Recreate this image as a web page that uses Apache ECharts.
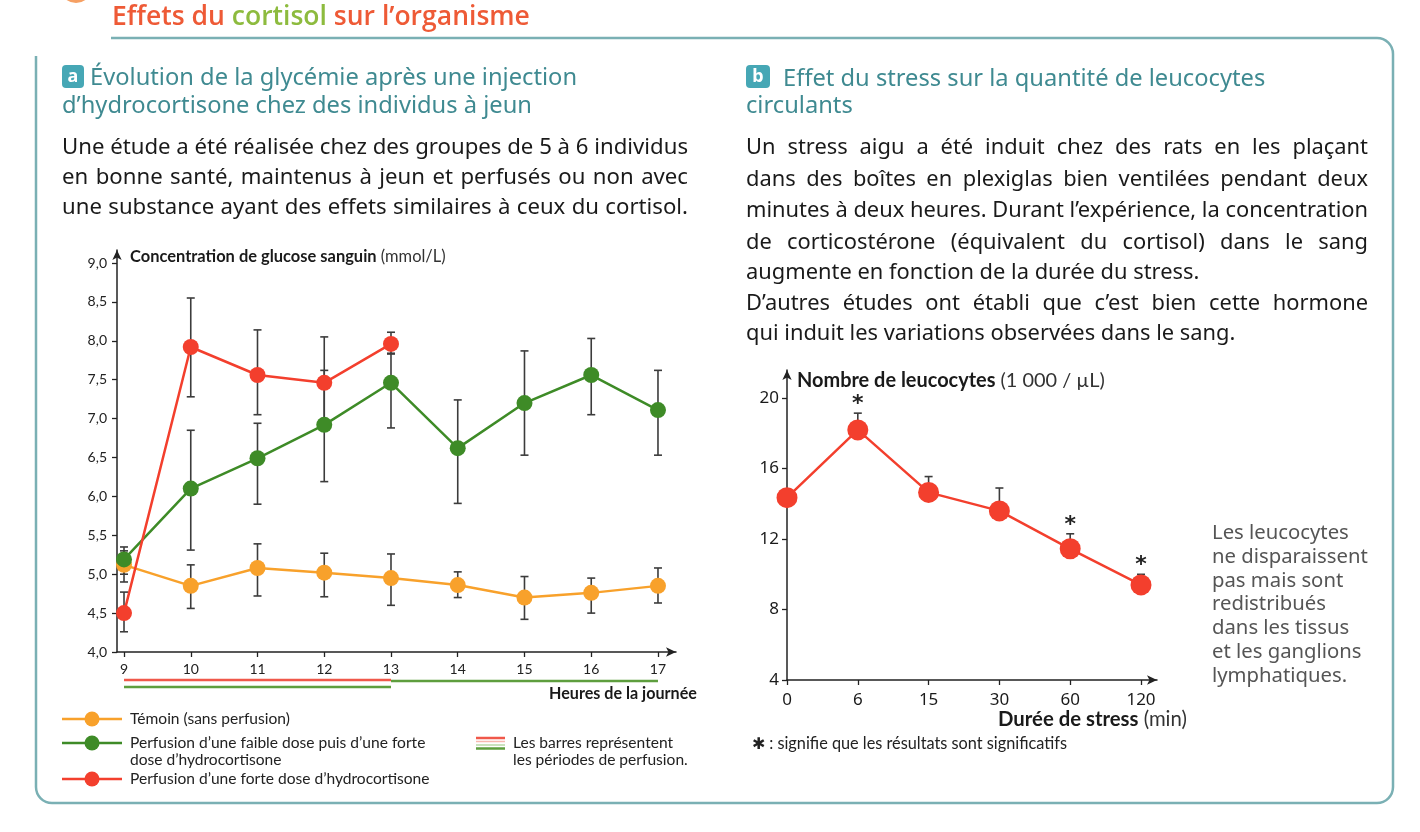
<!DOCTYPE html>
<html><head><meta charset="utf-8">
<script src="https://cdn.jsdelivr.net/npm/echarts@6/dist/echarts.min.js"></script>
<style>html,body{margin:0;padding:0;background:#fff}#c{width:1420px;height:832px}</style>
</head><body><div id="c"></div>
<script>
// ---------- DATA: document a (glycémie) ----------
const hours = [9, 10, 11, 12, 13, 14, 15, 16, 17];
const yTicksA = [4.0, 4.5, 5.0, 5.5, 6.0, 6.5, 7.0, 7.5, 8.0, 8.5, 9.0];
const temoin     = [5.12, 4.85, 5.08, 5.02, 4.95, 4.86, 4.70, 4.76, 4.85];
const temoinLow  = [4.90, 4.56, 4.72, 4.71, 4.60, 4.70, 4.42, 4.50, 4.63];
const temoinHigh = [5.30, 5.12, 5.39, 5.27, 5.26, 5.03, 4.97, 4.95, 5.08];
const faible     = [5.19, 6.10, 6.49, 6.92, 7.46, 6.62, 7.20, 7.56, 7.11];
const faibleLow  = [5.00, 5.31, 5.90, 6.19, 6.88, 5.91, 6.53, 7.05, 6.53];
const faibleHigh = [5.35, 6.85, 6.94, 7.62, 7.84, 7.24, 7.87, 8.03, 7.62];
const forteHours = [9, 10, 11, 12, 13];
const forte      = [4.50, 7.92, 7.56, 7.46, 7.96];
const forteLow   = [4.26, 7.28, 7.05, 6.90, 7.83];
const forteHigh  = [4.77, 8.55, 8.14, 8.05, 8.11];
// périodes de perfusion [début, fin]
const perfForte  = [[9, 13]];
const perfFaible = [[9, 13]];
const perfFaible2 = [[13, 17]];

// ---------- DATA: document b (leucocytes) ----------
const durees = ['0', '6', '15', '30', '60', '120'];
const yTicksB = [4, 8, 12, 16, 20];
const leucocytes = [14.35, 18.2, 14.65, 13.6, 11.45, 9.4];
const leucoHigh  = [null, 19.15, 15.55, 14.9, 12.3, 10.0];
const significatif = [false, true, false, false, true, true];

// ---------- TEXTS ----------
const bodyA = [
  'Une étude a été réalisée chez des groupes de 5 à 6 individus',
  'en bonne santé, maintenus à jeun et perfusés ou non avec',
  'une substance ayant des effets similaires à ceux du cortisol.'
];
const bodyB = [
  'Un stress aigu a été induit chez des rats en les plaçant',
  'dans des boîtes en plexiglas bien ventilées pendant deux',
  'minutes à deux heures. Durant l’expérience, la concentration',
  'de corticostérone (équivalent du cortisol) dans le sang',
  'augmente en fonction de la durée du stress.',
  'D’autres études ont établi que c’est bien cette hormone',
  'qui induit les variations observées dans le sang.'
];
const sideNote = ['Les leucocytes', 'ne disparaissent', 'pas mais sont', 'redistribués',
  'dans les tissus', 'et les ganglions', 'lymphatiques.'];

// ---------- STYLE ----------
const C_OR = '#f8a12b', C_GR = '#3e8b27', C_RD = '#f33f2d';
const C_AX = '#222', C_ERR = '#3c3c3c';
const C_TEAL = '#7ab0b4', C_HEAD = '#3f8a91', C_BADGE = '#46a7b5';

const mctx = document.createElement('canvas').getContext('2d');
function tw(t, f) { mctx.font = f; return mctx.measureText(t).width; }
function has(fam) { return tw('abcdefghijklmnopqrstuvwxyz', '40px "' + fam + '", monospace') !== tw('abcdefghijklmnopqrstuvwxyz', '40px monospace'); }
const FAM_BODY = '"Noto Sans", "Open Sans", sans-serif';
const FAM_CH = has('Liberation Sans Narrow') ? '"Liberation Sans Narrow", sans-serif' : 'Lato, sans-serif';

const G = [];
function txt(text, x, y, font, fill, align) {
  G.push({ type: 'text', x: x, y: y, z: 10, silent: true,
    style: { text: text, font: font, fill: fill, textAlign: align || 'left', textVerticalAlign: 'middle' } });
}
function seq(parts, x, y, target, fam, alignRight) {
  let tot = 0;
  parts.forEach(p => tot += tw(p.t, (p.w || 'normal') + ' 100px ' + fam));
  const size = 100 * target / tot;
  let cx = alignRight ? x - target : x;
  parts.forEach(p => {
    const f = (p.w || 'normal') + ' ' + size.toFixed(2) + 'px ' + fam;
    txt(p.t, cx, y, f, p.c);
    cx += tw(p.t, f);
  });
  return size;
}
function para(lines, x, ys, width, fam, color, just, maxSize) {
  let maxW = 0;
  lines.forEach((l, i) => { if (just[i]) maxW = Math.max(maxW, tw(l, '100px ' + fam)); });
  const size = Math.min(maxSize, 100 * width / maxW);
  const font = size.toFixed(2) + 'px ' + fam;
  lines.forEach((l, i) => {
    if (!just[i]) { txt(l, x, ys[i], font, color); return; }
    const words = l.split(' ');
    const ws = words.map(w => tw(w, font));
    const sum = ws.reduce((a, b) => a + b, 0);
    const gap = (width - sum) / (words.length - 1);
    let cx = x;
    words.forEach((w, j) => { txt(w, cx, ys[i], font, color); cx += ws[j] + gap; });
  });
}

// ---------- FRAME / HEADINGS ----------
G.push({ type: 'rect', z: 1, silent: true, shape: { x: 36, y: 38, width: 1357, height: 765, r: 16 },
  style: { fill: 'none', stroke: C_TEAL, lineWidth: 2.5 } });
G.push({ type: 'rect', z: 2, silent: true, shape: { x: 0, y: 0, width: 111, height: 56 }, style: { fill: '#fff' } });
G.push({ type: 'circle', z: 3, silent: true, shape: { cx: 76, cy: -13, r: 16 }, style: { fill: '#f6a063' } });
seq([{ t: 'Effets du ', w: '600', c: '#ee5a36' }, { t: 'cortisol', w: '600', c: '#8dbb3e' },
     { t: ' sur l’organisme', w: '600', c: '#ee5a36' }], 112, 17, 418, '"Open Sans", sans-serif');

function badge(letter, x, w) {
  G.push({ type: 'rect', z: 5, silent: true, shape: { x: x, y: 65, width: w, height: 23, r: 4 }, style: { fill: C_BADGE } });
  txt(letter, x + w / 2, 76.5, 'bold 18px "Noto Sans", sans-serif', '#fff', 'center');
}
badge('a', 62, 22);
badge('b', 746, 24);
const hs = 100 * 487 / tw('Évolution de la glycémie après une injection', '100px ' + FAM_BODY);
const hf = hs.toFixed(2) + 'px ' + FAM_BODY;
txt('Évolution de la glycémie après une injection', 90, 78, hf, C_HEAD);
txt('d’hydrocortisone chez des individus à jeun', 62, 106, hf, C_HEAD);
txt('Effet du stress sur la quantité de leucocytes', 783, 79, hf, C_HEAD);
txt('circulants', 746, 106, hf, C_HEAD);

para(bodyA, 62, [148, 178, 208], 626, FAM_BODY, '#1a1a1a', [true, true, true], 22.5);
para(bodyB, 746, [148, 180, 211, 243, 273, 304, 334], 622, FAM_BODY, '#1a1a1a',
  [true, true, true, true, false, true, false], 22.5);

// ---------- AXIS NAMES / LEGENDS (text) ----------
seq([{ t: 'Concentration de glucose sanguin', w: 'bold', c: '#1a1a1a' }, { t: ' (mmol/L)', c: '#333' }], 130, 257, 316, FAM_CH);
seq([{ t: 'Heures de la journée', w: 'bold', c: '#1a1a1a' }], 697, 694, 148, FAM_CH, true);
seq([{ t: 'Nombre de leucocytes', w: 'bold', c: '#1a1a1a' }, { t: ' (1 000 / µL)', c: '#333' }], 797, 381, 308, FAM_CH);
seq([{ t: 'Durée de stress', w: 'bold', c: '#1a1a1a' }, { t: ' (min)', c: '#333' }], 1187, 719, 189, FAM_CH, true);
seq([{ t: '✱ : signifie que les résultats sont significatifs', c: '#222' }], 752, 744, 316, FAM_CH);

const ls = 100 * 160 / tw('Témoin (sans perfusion)', '100px ' + FAM_CH);
const lf = ls.toFixed(2) + 'px ' + FAM_CH;
function legItem(color, y) {
  G.push({ type: 'line', z: 5, silent: true, shape: { x1: 62, y1: y, x2: 122, y2: y }, style: { stroke: color, lineWidth: 2.5 } });
  G.push({ type: 'circle', z: 6, silent: true, shape: { cx: 92, cy: y, r: 7.5 }, style: { fill: color } });
}
legItem(C_OR, 719); txt('Témoin (sans perfusion)', 130, 719, lf, '#222');
legItem(C_GR, 743); txt('Perfusion d’une faible dose puis d’une forte', 130, 743, lf, '#222');
txt('dose d’hydrocortisone', 130, 760, lf, '#222');
legItem(C_RD, 779); txt('Perfusion d’une forte dose d’hydrocortisone', 130, 779, lf, '#222');
[[738, '#f0584a', 2.5], [741.5, '#f7b8b0', 1.5], [745, '#b9d9a8', 1.5], [748.5, '#5e9e3e', 2.5]].forEach(s => {
  G.push({ type: 'line', z: 5, silent: true, shape: { x1: 476, y1: s[0], x2: 505, y2: s[0] }, style: { stroke: s[1], lineWidth: s[2] } });
});
txt('Les barres représentent', 513, 743, lf, '#222');
txt('les périodes de perfusion.', 513, 760, lf, '#222');

const ss = 100 * 156 / tw('ne disparaissent', '100px ' + FAM_BODY);
sideNote.forEach((l, i) => txt(l, 1212, 533 + i * 23.9, ss.toFixed(2) + 'px ' + FAM_BODY, '#555'));

// ---------- CHART ----------
function errRender(capW, bottomCap, withStar) {
  return function (params, api) {
    const x = api.value(0), lo = api.value(1), hi = api.value(2);
    const a = api.coord([x, lo]), b = api.coord([x, hi]);
    const st = { stroke: C_ERR, lineWidth: 1.6 };
    const ch = [
      { type: 'line', shape: { x1: a[0], y1: a[1], x2: b[0], y2: b[1] }, style: st },
      { type: 'line', shape: { x1: b[0] - capW, y1: b[1], x2: b[0] + capW, y2: b[1] }, style: st }
    ];
    if (bottomCap) ch.push({ type: 'line', shape: { x1: a[0] - capW, y1: a[1], x2: a[0] + capW, y2: a[1] }, style: st });
    if (withStar && api.value(3) === 1) ch.push({ type: 'text', x: b[0], y: b[1] - 9,
      style: { text: '*', font: 'bold 22px "DejaVu Sans", sans-serif', fill: '#222', textAlign: 'center', textVerticalAlign: 'middle' } });
    return { type: 'group', children: ch };
  };
}
function perfRender(color, dy, width) {
  return function (params, api) {
    const a = api.coord([api.value(0), 4]), b = api.coord([api.value(1), 4]);
    return { type: 'line', shape: { x1: a[0], y1: a[1] + dy, x2: b[0], y2: b[1] + dy },
      style: { stroke: color, lineWidth: width } };
  };
}
const lblA = { color: C_AX, fontSize: 14, fontFamily: FAM_CH };
const axLine = { show: true, symbol: ['none', 'arrow'], symbolSize: [7, 10], lineStyle: { color: C_AX, width: 1.5 } };
const tick = { show: true, length: 5, lineStyle: { color: C_AX, width: 1.3 } };

const option = {
  animation: false,
  grid: [
    { left: 117, right: 744, top: 250, bottom: 180 },
    { left: 787, right: 263, top: 370, bottom: 152 }
  ],
  xAxis: [
    { type: 'value', gridIndex: 0, min: 8.895, max: 17.27, splitLine: { show: false },
      axisLine: axLine, axisTick: Object.assign({ customValues: hours }, tick),
      axisLabel: Object.assign({ customValues: hours, margin: 10, formatter: v => String(v) }, lblA) },
    { type: 'value', gridIndex: 1, min: 0, max: 5.226, splitLine: { show: false },
      axisLine: axLine, axisTick: Object.assign({ customValues: durees.map((d, i) => i) }, tick),
      axisLabel: { customValues: durees.map((d, i) => i), margin: 12, formatter: v => durees[Math.round(v)],
        color: '#1a1a1a', fontSize: 17, fontFamily: FAM_BODY } }
  ],
  yAxis: [
    { type: 'value', gridIndex: 0, min: 4, max: 9.167, splitLine: { show: false },
      axisLine: axLine, axisTick: Object.assign({ customValues: yTicksA }, tick),
      axisLabel: Object.assign({ customValues: yTicksA, margin: 10, formatter: v => v.toFixed(1).replace('.', ',') }, lblA) },
    { type: 'value', gridIndex: 1, min: 4, max: 21.6, splitLine: { show: false },
      axisLine: axLine, axisTick: Object.assign({ customValues: yTicksB }, tick),
      axisLabel: { customValues: yTicksB, margin: 8, color: '#1a1a1a', fontSize: 17, fontFamily: FAM_BODY } }
  ],
  graphic: { elements: G },
  series: [
    { type: 'custom', name: 'err-temoin', xAxisIndex: 0, yAxisIndex: 0, z: 1, silent: true,
      renderItem: errRender(4, true), data: hours.map((h, i) => [h, temoinLow[i], temoinHigh[i]]) },
    { type: 'custom', name: 'err-faible', xAxisIndex: 0, yAxisIndex: 0, z: 1, silent: true,
      renderItem: errRender(4, true), data: hours.map((h, i) => [h, faibleLow[i], faibleHigh[i]]) },
    { type: 'custom', name: 'err-forte', xAxisIndex: 0, yAxisIndex: 0, z: 1, silent: true,
      renderItem: errRender(4, true), data: forteHours.map((h, i) => [h, forteLow[i], forteHigh[i]]) },
    { type: 'custom', name: 'perf-forte', xAxisIndex: 0, yAxisIndex: 0, clip: false, silent: true,
      renderItem: perfRender('#f0584a', 28, 2.5), data: perfForte },
    { type: 'custom', name: 'perf-faible', xAxisIndex: 0, yAxisIndex: 0, clip: false, silent: true,
      renderItem: perfRender('#5e9e3e', 35, 2.5), data: perfFaible },
    { type: 'custom', name: 'perf-faible2', xAxisIndex: 0, yAxisIndex: 0, clip: false, silent: true,
      renderItem: perfRender('#5e9e3e', 29, 2.5), data: perfFaible2 },
    { type: 'line', name: 'Témoin (sans perfusion)', xAxisIndex: 0, yAxisIndex: 0, z: 2,
      symbol: 'circle', symbolSize: 16, lineStyle: { color: C_OR, width: 2.5 }, itemStyle: { color: C_OR },
      data: hours.map((h, i) => [h, temoin[i]]) },
    { type: 'line', name: 'Perfusion d’une faible dose puis d’une forte dose', xAxisIndex: 0, yAxisIndex: 0, z: 3,
      symbol: 'circle', symbolSize: 16, lineStyle: { color: C_GR, width: 2.5 }, itemStyle: { color: C_GR },
      data: hours.map((h, i) => [h, faible[i]]) },
    { type: 'line', name: 'Perfusion d’une forte dose', xAxisIndex: 0, yAxisIndex: 0, z: 4,
      symbol: 'circle', symbolSize: 16, lineStyle: { color: C_RD, width: 2.5 }, itemStyle: { color: C_RD },
      data: forteHours.map((h, i) => [h, forte[i]]) },
    { type: 'custom', name: 'err-leuco', xAxisIndex: 1, yAxisIndex: 1, z: 1, silent: true,
      renderItem: errRender(4, false, true),
      data: durees.map((d, i) => [i, leucocytes[i], leucoHigh[i], significatif[i] ? 1 : 0]).filter(r => r[2] != null) },
    { type: 'line', name: 'Leucocytes', xAxisIndex: 1, yAxisIndex: 1, z: 3,
      symbol: 'circle', symbolSize: 21, lineStyle: { color: C_RD, width: 2.5 }, itemStyle: { color: C_RD },
      data: durees.map((d, i) => [i, leucocytes[i]]) }
  ]
};
const chart = echarts.init(document.getElementById('c'));
chart.setOption(option);
</script></body></html>
